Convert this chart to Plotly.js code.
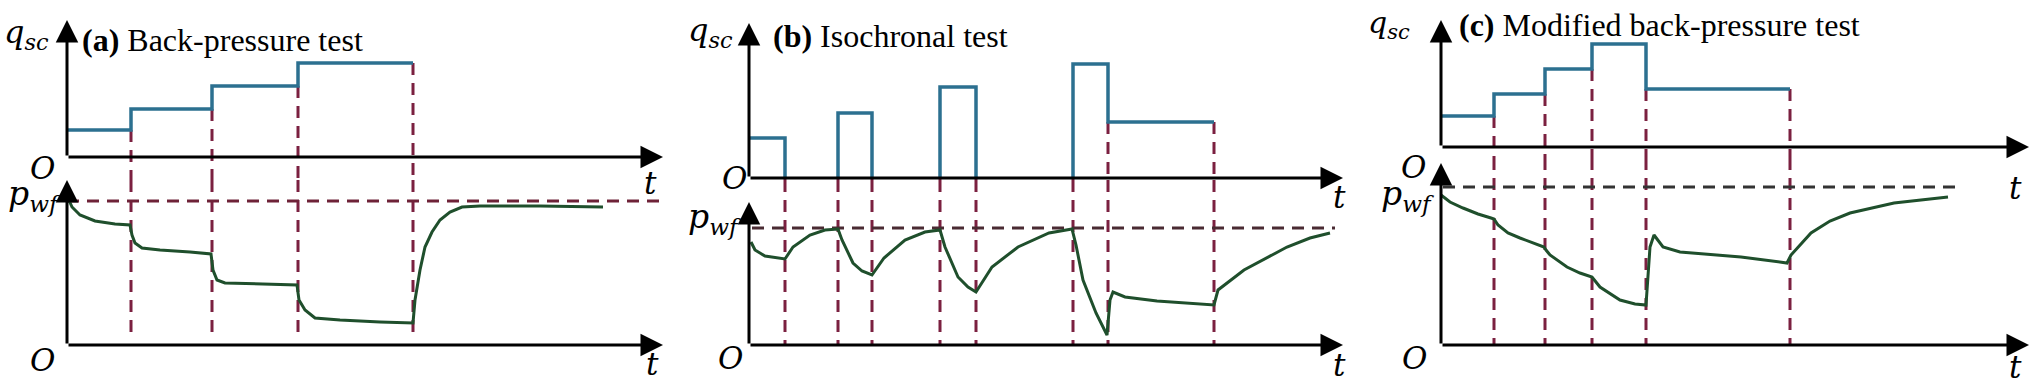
<!DOCTYPE html>
<html>
<head>
<meta charset="utf-8">
<script src="https://cdn.plot.ly/plotly-3.0.1.min.js"></script>
<style>html,body{margin:0;padding:0;background:#fff;}#chart{width:2032px;height:385px;}</style>
</head>
<body>
<div id="chart"></div>
<script>
// ---------------- DATA (arbitrary schematic units) ----------------
// (a) Back-pressure test
const a_stepT = [0, 6.4, 14.5, 23.1, 34.6];          // rate change times
const a_stepQ = [2.7, 4.8, 7.1, 9.4];                // rate levels
const a_pT = [0.1,0.5,1.3,2.8,4.8,6.3, 6.5,6.8,7.5,9.3,12.3,14.4, 14.6,15.0,15.8,19.3,23.0, 23.2,23.8,24.8,27.3,31.3,34.6, 34.8,35.3,35.8,36.5,37.3,38.3,39.5,41.3,47.3,53.6];
const a_pP = [14.7,13.8,13.0,12.4,12.1,12.0, 11.0,10.2,9.7,9.5,9.3,9.1, 7.5,6.5,6.2,6.1,6.0, 4.5,3.5,2.7,2.5,2.3,2.2, 4.5,7.5,9.8,11.3,12.5,13.3,13.8,13.9,13.9,13.8];
const a_pRef = 14.4;

// (b) Isochronal test
const b_start = [0, 8.9, 19.1, 32.4];
const b_end = [3.6, 12.3, 22.7, 35.9];
const b_q = [4.0, 6.5, 9.1, 11.4];
const b_finalQ = 5.6;
const b_finalEnd = 46.5;
const b_pT = [0.2,0.6,1.6,3.6, 4.4,6.1,7.6,8.9, 9.3,10.4,11.3,12.3, 13.5,15.6,17.6,19.1, 19.6,20.9,21.9,22.7, 24.3,26.9,30.0,32.3, 32.7,33.4,34.7,35.8, 36.1,36.4,37.6,40.8,46.5, 46.9,49.5,53.8,56.1,58.1];
const b_pP = [10.3,9.5,8.9,8.6, 9.8,11.0,11.5,11.6, 10.5,8.2,7.4,7.0, 8.7,10.5,11.3,11.5, 9.8,6.8,5.8,5.3, 7.8,9.8,11.2,11.6, 10.0,6.5,3.2,1.0, 4.5,5.3,4.8,4.4,4.0, 5.5,7.5,9.8,10.7,11.2];
const b_pRef = 11.7;

// (c) Modified back-pressure test
const c_stepT = [0, 5.3, 10.4, 15.1, 20.5, 34.9];
const c_stepQ = [3.1, 5.3, 7.8, 10.3, 5.8];
const c_pT = [0,0.9,2.2,3.7,5.0,5.3, 5.7,6.7,7.9,10.3, 10.5,10.9,12.6,13.9,15.1, 15.5,15.9,17.9,19.4,20.5, 20.7,20.9,21.3,22.2,23.9,30.0,34.6, 35.0,37.0,38.9,40.9,45.3,50.7];
const c_pP = [15.0,14.3,13.7,13.1,12.7,12.6, 12.0,11.2,10.7,9.8, 9.5,9.0,7.8,7.2,6.8, 6.3,5.8,4.5,4.1,4.0, 7.5,9.8,11.0,9.8,9.3,8.8,8.2, 9.0,11.2,12.4,13.2,14.2,14.8];
const c_pRef = 15.8;

// text
const titles = ['<b>(a)</b> Back-pressure test', '<b>(b)</b> Isochronal test', '<b>(c)</b> Modified back-pressure test'];
const qLabel = '<i>q</i><sub><i>sc</i></sub>';
const pLabel = '<i>p</i><sub><i>wf</i></sub>';

// ---------------- LAYOUT GEOMETRY (pixels) ----------------
const W = 2032, H = 385, S = 10; // S: pixels per data unit
const panels = [
  {xL:0,    xR:680,  ox:67,   qy:157, py:345, mid:180, xEnd:663,  qTop:20, pTop:180},
  {xL:680,  xR:1360, ox:749,  qy:178, py:345, mid:180, xEnd:1343, qTop:23, pTop:202},
  {xL:1360, xR:2032, ox:1441, qy:147, py:345, mid:158, xEnd:2029, qTop:20, pTop:163}
];
const labelPos = [
  {q:[26,34],  title:[80,40],   Oq:[42,168],  tq:[650,183],  p:[34,196],   Op:[42,360],  tp:[652,364]},
  {q:[710,32], title:[771,36],  Oq:[734,178], tq:[1339,197], p:[714,218],  Op:[730,358], tp:[1339,365]},
  {q:[1389,24],title:[1457,25], Oq:[1413,167],tq:[2015,188], p:[1407,196], Op:[1414,358],tp:[2015,367]}
];

const FONT = 'DejaVu Serif', TFONT = 'Liberation Serif';
const COL_STEP = '#2c7090', COL_P = '#1f4f2c', COL_V = '#7b2040';
const COL_REF = ['#6e2238', '#4a2b33', '#333333'];
const DASH = '12px,8px';

const layout = {
  width: W, height: H, margin: {l:0, r:0, t:0, b:0},
  paper_bgcolor: '#fff', plot_bgcolor: 'rgba(0,0,0,0)',
  showlegend: false, annotations: [], font: {family: FONT, color: '#000'}
};
const traces = [];

function px(x){ return x / W; }
function py(y){ return 1 - y / H; }

panels.forEach((P, i) => {
  const xa = i === 0 ? 'xaxis' : 'xaxis' + (i + 1);
  const xr = i === 0 ? 'x' : 'x' + (i + 1);
  const qn = 2 * i + 1, pn = 2 * i + 2;
  const qya = qn === 1 ? 'yaxis' : 'yaxis' + qn, qyr = qn === 1 ? 'y' : 'y' + qn;
  const pya = 'yaxis' + pn, pyr = 'y' + pn;
  const hidden = {visible:false, fixedrange:true, showgrid:false, zeroline:false};
  layout[xa] = Object.assign({}, hidden, {domain:[px(P.xL), px(P.xR)], range:[(P.xL-P.ox)/S, (P.xR-P.ox)/S], anchor: qyr});
  layout[qya] = Object.assign({}, hidden, {domain:[py(P.mid), 1], range:[(P.qy-P.mid)/S, P.qy/S], anchor: xr});
  layout[pya] = Object.assign({}, hidden, {domain:[0, py(P.mid)], range:[(P.py-H)/S, (P.py-P.mid)/S], anchor: xr});
  P.xr = xr; P.qyr = qyr; P.pyr = pyr; P.qya = qya; P.pya = pya;

  // axes arrows
  const xEnd = (P.xEnd - P.ox) / S;
  const arrows = [
    [qyr, xEnd, 0], [qyr, 0, (P.qy - P.qTop) / S],
    [pyr, xEnd, 0], [pyr, 0, (P.py - P.pTop) / S]
  ];
  arrows.forEach(a => {
    layout.annotations.push({xref:xr, yref:a[0], axref:xr, ayref:a[0], x:a[1], y:a[2], ax:0, ay:0,
      text:'', showarrow:true, arrowhead:2, arrowsize:1.5, arrowwidth:3, arrowcolor:'#000'});
  });

  // labels
  const L = labelPos[i];
  const txt = (pos, text, size, anchor, fam) => layout.annotations.push({xref:'paper', yref:'paper', x:px(pos[0]), y:py(pos[1]),
    text:text, showarrow:false, xanchor:anchor || 'center', yanchor:'middle', font:{family:fam || FONT, size:size, color:'#000'}});
  txt(L.q, qLabel, i === 2 ? 30 : 32);
  txt(L.p, pLabel, 33);
  txt(L.Oq, '<i>O</i>', 31);
  txt(L.Op, '<i>O</i>', 31);
  txt(L.tq, '<i>t</i>', 31);
  txt(L.tp, '<i>t</i>', 31);
  txt(L.title, titles[i], 32, 'left', TFONT);
});

function addLine(x, y, xr, yr, color, width, dash) {
  traces.push({type:'scatter', mode:'lines', x:x, y:y, xaxis:xr, yaxis:yr, connectgaps:false,
    line:{color:color, width:width, dash:dash || 'solid', shape:'linear'}, hoverinfo:'skip'});
}

// step rate series builder
function stepXY(t, q) {
  const x = [], y = [];
  for (let k = 0; k < q.length; k++) { x.push(t[k], t[k+1]); y.push(q[k], q[k]); }
  return {x, y};
}
// vertical dashed lines through both rows
function vlines(P, ts, tops, pBottom) {
  const xq = [], yq = [], xp = [], yp = [];
  const qBot = layout[P.qya].range[0];
  const pTopV = layout[P.pya].range[1];
  ts.forEach((t, k) => {
    xq.push(t, t, null); yq.push(tops[k], qBot, null);
    xp.push(t, t, null); yp.push(pTopV, pBottom, null);
  });
  addLine(xq, yq, P.xr, P.qyr, COL_V, 3, DASH);
  addLine(xp, yp, P.xr, P.pyr, COL_V, 3, DASH);
}

// ---- panel (a)
{
  const P = panels[0];
  const ts = a_stepT.slice(1);
  const tops = ts.map((t, k) => k + 1 < a_stepQ.length ? Math.min(a_stepQ[k], a_stepQ[k+1]) : a_stepQ[k]);
  vlines(P, ts, tops, 1.0);
  addLine([0, 59.4], [a_pRef, a_pRef], P.xr, P.pyr, COL_REF[0], 3, DASH);
  const s = stepXY(a_stepT, a_stepQ);
  addLine(s.x, s.y, P.xr, P.qyr, COL_STEP, 3.5);
  addLine(a_pT, a_pP, P.xr, P.pyr, COL_P, 3);
}
// ---- panel (b)
{
  const P = panels[1];
  const lastEnd = b_end[b_end.length - 1];
  const edges = b_start.filter(t => t > 0).concat(b_end, [b_finalEnd]).sort((u, v) => u - v);
  vlines(P, edges, edges.map(e => (e >= lastEnd ? b_finalQ : 0)), 0);
  addLine([0.3, 58.6], [b_pRef, b_pRef], P.xr, P.pyr, COL_REF[1], 3, DASH);
  const x = [], y = [];
  b_start.forEach((t, k) => {
    if (t > 0) { x.push(t); y.push(0); }
    x.push(t, b_end[k]); y.push(b_q[k], b_q[k]);
    if (k < b_start.length - 1) { x.push(b_end[k], null); y.push(0, null); }
    else { x.push(b_end[k], b_finalEnd); y.push(b_finalQ, b_finalQ); }
  });
  addLine(x, y, P.xr, P.qyr, COL_STEP, 3.5);
  addLine(b_pT, b_pP, P.xr, P.pyr, COL_P, 3);
}
// ---- panel (c)
{
  const P = panels[2];
  const ts = c_stepT.slice(1);
  const tops = ts.map((t, k) => k + 1 < c_stepQ.length ? Math.min(c_stepQ[k], c_stepQ[k+1]) : c_stepQ[k]);
  vlines(P, ts, tops, 0);
  addLine([0.2, 51.8], [c_pRef, c_pRef], P.xr, P.pyr, COL_REF[2], 3, DASH);
  const s = stepXY(c_stepT, c_stepQ);
  addLine(s.x, s.y, P.xr, P.qyr, COL_STEP, 3.5);
  addLine(c_pT, c_pP, P.xr, P.pyr, COL_P, 3);
}

Plotly.newPlot('chart', traces, layout, {staticPlot:true, displayModeBar:false});
</script>
</body>
</html>
